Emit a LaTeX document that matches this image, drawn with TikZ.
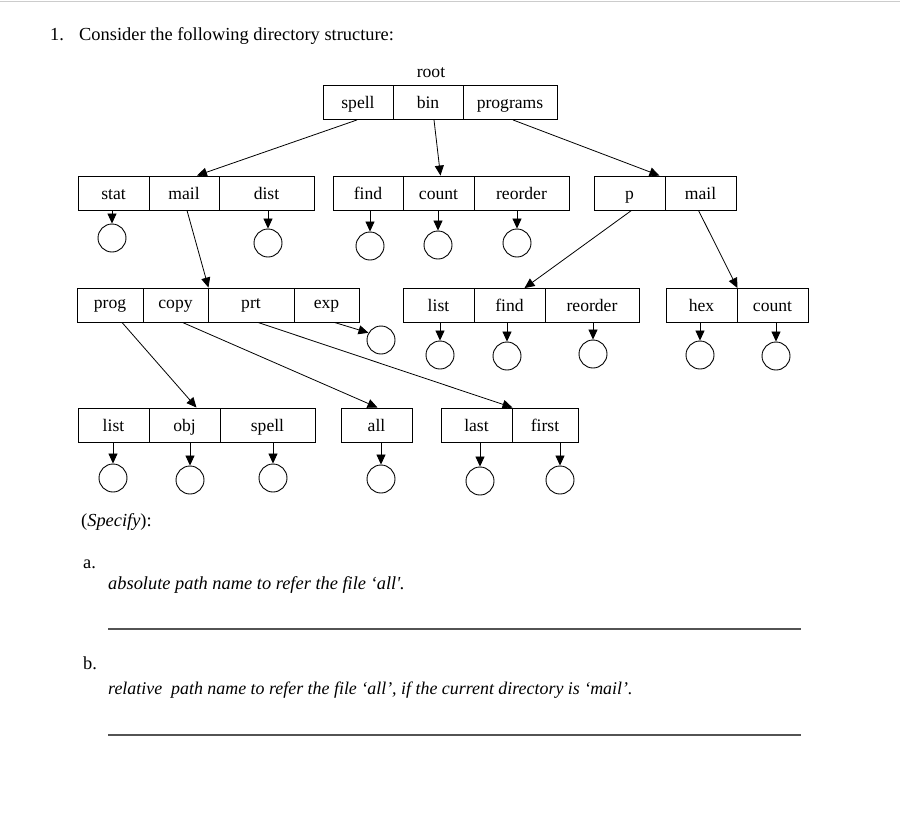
\documentclass[tikz,border=0pt]{standalone}
\usepackage{fontspec}
\setmainfont{Liberation Serif}
\usetikzlibrary{arrows.meta}

\begin{document}
\begin{tikzpicture}[x=1pt, y=-1pt, >={Triangle[length=10pt,width=9pt]},
    font=\fontsize{17.6}{21}\selectfont,
    cell/.style={draw, line width=0.9pt, inner sep=0pt, minimum height=34pt,
      text height=14pt, text depth=2pt},
    hicell/.style={cell, text height=11pt, text depth=5pt},
    file/.style={draw, circle, line width=0.9pt, minimum size=28pt, inner sep=0pt},
    link/.style={->, line width=0.8pt},
    txt/.style={anchor=base west, inner sep=0pt, font=\fontsize{18.4}{22}\selectfont},
    answer/.style={gray!65!black, line width=1.3pt}]
  \useasboundingbox (0,0) rectangle (900,822);
  \draw[gray!40, line width=1pt] (0,1.5) -- (900,1.5);

  % Frage
  \node[txt] (num) at (50,40) {1.};
  \node[txt] (title) at (79,40) {Consider the following directory structure:};

  % root
  \node[anchor=base] (root) at (431,77) {root};
  \node[cell, minimum width=70pt] (spell) at (358,102.5) {spell};
  \node[cell, minimum width=70pt] (bin) at (428,102.5) {bin};
  \node[cell, minimum width=94pt] (programs) at (510,102.5) {programs};

  % zweite Ebene
  \node[cell, minimum width=71pt] (stat) at (113.5,193) {stat};
  \node[cell, minimum width=70pt] (mail) at (184,193) {mail};
  \node[cell, minimum width=95pt] (dist) at (266.5,193) {dist};
  \node[cell, minimum width=70pt] (find) at (368,193) {find};
  \node[cell, minimum width=71pt] (count) at (438.5,193) {count};
  \node[cell, minimum width=95pt] (reorder) at (521.5,193) {reorder};
  \node[cell, minimum width=71pt] (p) at (629.5,193) {p};
  \node[cell, minimum width=71pt] (mailb) at (700.5,193) {mail};

  % dritte Ebene
  \node[hicell, minimum width=66pt] (prog) at (110,305) {prog};
  \node[hicell, minimum width=65pt] (copy) at (175.5,305) {copy};
  \node[hicell, minimum width=86pt] (prt) at (251,305) {prt};
  \node[hicell, minimum width=65pt] (exp) at (326.5,305) {exp};
  \node[cell, minimum width=71pt] (list) at (438.5,305.5) {list};
  \node[cell, minimum width=71pt] (findb) at (509.5,305.5) {find};
  \node[cell, minimum width=94pt] (reorderb) at (592,305.5) {reorder};
  \node[cell, minimum width=71pt] (hex) at (701.5,305.5) {hex};
  \node[cell, minimum width=71pt] (countb) at (772.5,305.5) {count};

  % vierte Ebene
  \node[cell, minimum width=71pt] (listb) at (113.5,425) {list};
  \node[cell, minimum width=71pt] (obj) at (184.5,425) {obj};
  \node[cell, minimum width=95pt] (spellb) at (267.5,425) {spell};
  \node[cell, minimum width=71pt] (all) at (376.5,425) {all};
  \node[cell, minimum width=71pt] (last) at (476.5,425) {last};
  \node[cell, minimum width=66pt] (first) at (545,425) {first};

  % Dateien
  \node[file] (fstat) at (112,238) {};
  \node[file] (fdist) at (268,243) {};
  \node[file] (ffind) at (370,246) {};
  \node[file] (fcount) at (438,245) {};
  \node[file] (freorder) at (517,243) {};
  \node[file] (fexp) at (381,340) {};
  \node[file] (flist) at (440,355) {};
  \node[file] (ffindb) at (507,356) {};
  \node[file] (freorderb) at (593,354) {};
  \node[file] (fhex) at (700,355) {};
  \node[file] (fcountb) at (776,356) {};
  \node[file] (flistb) at (113,478) {};
  \node[file] (fobj) at (190,480) {};
  \node[file] (fspellb) at (273,478) {};
  \node[file] (fall) at (381,479) {};
  \node[file] (flast) at (480,481) {};
  \node[file] (ffirst) at (560,480) {};

  \foreach \c/\f in {stat/fstat, dist/fdist, find/ffind, count/fcount, reorder/freorder,
      list/flist, findb/ffindb, reorderb/freorderb, hex/fhex, countb/fcountb,
      listb/flistb, obj/fobj, spellb/fspellb, all/fall, last/flast, first/ffirst}
    \draw[link] (\f.north |- \c.south) -- (\f.north);

  % Verzeichnisse
  \draw[link] ([xshift=-1pt]spell.south) -- ([xshift=13pt]mail.north);
  \draw[link] ([xshift=6pt]bin.south) -- ([xshift=2pt]count.north);
  \draw[link] ([xshift=3pt]programs.south) -- ([xshift=-6pt]p.north east);
  \draw[link] ([xshift=3pt]mail.south) -- (copy.north east);
  \draw[link] ([xshift=2pt]p.south) -- ([xshift=15pt]findb.north);
  \draw[link] ([xshift=-2pt]mailb.south) -- (hex.north east);
  \draw[link] ([xshift=12pt]prog.south) -- ([xshift=12pt]obj.north);
  \draw[link] ([xshift=7pt]copy.south) -- ([xshift=1pt]all.north);
  \draw[link] ([xshift=7pt]prt.south) -- (last.north east);
  \draw[link] ([xshift=8pt]exp.south) -- (fexp.150);

  % Aufgaben
  \node[txt] (specify) at (81,526) {(\textit{Specify}):};
  \node[txt] (a) at (83,568) {a.};
  \node[txt] (qa) at (108,589) {\textit{absolute path name to refer the file ‘all\textquotesingle.}};
  \draw[answer] (108,629) -- (801,629);
  \node[txt] (b) at (83,669) {b.};
  \node[txt, font=\fontsize{17.9}{22}\selectfont] (qb) at (108,694) {\textit{relative\ \ path name to refer the file ‘all’, if the current directory is ‘mail’.}};
  \draw[answer] (108,735) -- (801,735);
\end{tikzpicture}
\end{document}
